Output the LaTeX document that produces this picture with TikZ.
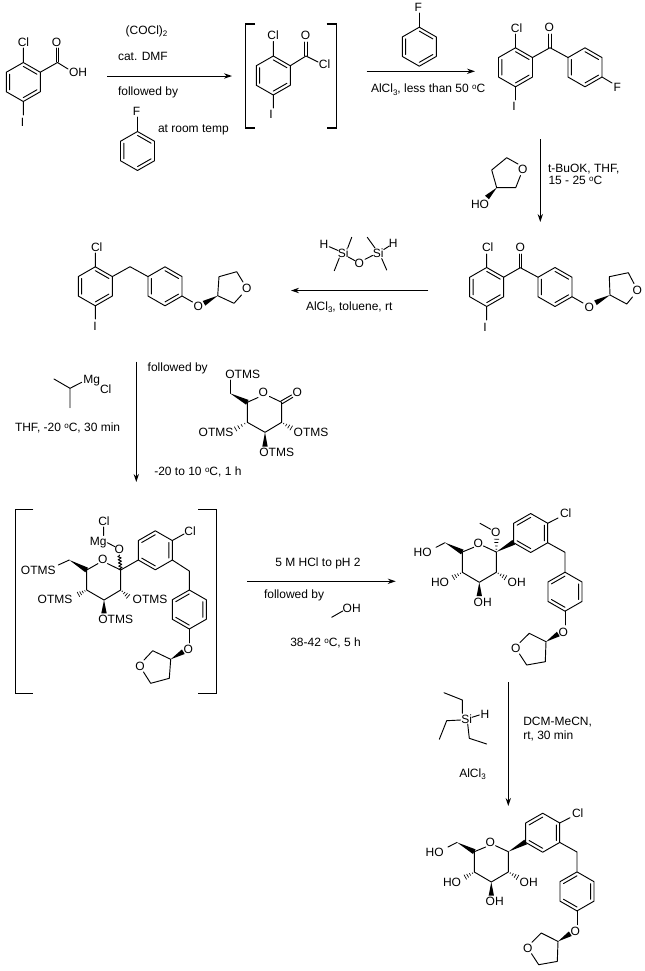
\documentclass[tikz,border=0pt]{standalone}
\usepackage{fontspec}
\setmainfont{Liberation Sans}
\usetikzlibrary{calc,arrows.meta,decorations.pathmorphing}
\tikzset{
  bond/.style={line width=0.7pt,black,line cap=round,line join=round},
  rxn/.style={line width=0.75pt,black,-{Stealth[length=6pt,width=4pt,inset=2pt]}},
  brk/.style={line width=0.85pt,black},
  lbl/.style={inner sep=0pt,outer sep=0pt,text height=6.6pt,text depth=0pt,font=\fontsize{9}{10}\selectfont,text=black},
  txt/.style={lbl,anchor=west},
}
\newcommand\lowr[1]{\raisebox{-1.7pt}{\fontsize{6}{7}\selectfont #1}}
\newcommand\dgr{\raisebox{2.2pt}{\fontsize{6}{7}\selectfont o}}
\newcommand\hexshape{\draw[bond] (0,-19.5)--(17,-9.75)--(17,9.75)--(0,19.5)--(-17,9.75)--(-17,-9.75)--cycle;}
\newcommand\benzA[2]{\begin{scope}[shift={(#1,#2)}]\hexshape
  \draw[bond] (0,-15.6)--(13.6,-7.8) (13.6,7.8)--(0,15.6) (-13.6,7.8)--(-13.6,-7.8);\end{scope}}
\newcommand\benzB[2]{\begin{scope}[shift={(#1,#2)}]\hexshape
  \draw[bond] (13.6,-7.8)--(13.6,7.8) (0,15.6)--(-13.6,7.8) (-13.6,-7.8)--(0,-15.6);\end{scope}}
\newcommand\wdg[2]{\fill[black] #1 -- ($#2!2pt!90:#1$) -- ($#2!2pt!-90:#1$) -- cycle;}
\newcommand\hsh[2]{\foreach \t/\w in {0.2/0.5,0.45/1.0,0.7/1.5,0.95/2}{%
  \coordinate (hp) at ($#1!\t!#2$);
  \draw[line width=0.5pt,black] ($(hp)!\w pt!90:#2$) -- ($(hp)!\w pt!-90:#2$);}}
\newcommand\glucosideCore[1]{%
  \draw[bond] (473.7,547.3)--(462.3,552)--(462.3,572.3)--(479.3,582.3)--(496.3,572.3)--(496.3,552)--(483.5,546);
  \node[lbl] (#1ro) at (478.3,542.7) {O};
  \wdg{(445,542.7)}{(462.3,552)}
  \draw[bond] (445,542.7)--(436,547.3);
  \node[lbl] (#1oh6) at (422.7,552.3) {HO};
  \hsh{(462.3,572.3)}{(452.8,577.6)}
  \node[lbl] (#1oh4) at (440,582.3) {HO};
  \hsh{(496.3,572.3)}{(506,577.9)}
  \node[lbl] (#1oh2) at (516.7,582.3) {OH};
  \wdg{(479.3,582.3)}{(479.3,596)}
  \node[lbl] (#1oh3) at (482.7,601.7) {OH};
  \wdg{(496.3,552)}{(513.7,542.3)}
  \benzB{530.7}{533}
  \draw[bond] (547.7,523.3)--(558,518);
  \node[lbl] (#1cl) at (565.7,513.3) {Cl};
  \draw[bond] (547.7,542.7)--(565,552.3)--(565,572.2);
  \benzB{565}{591.7}
  \draw[bond] (565,611.2)--(565,625);
  \node[lbl] (#1oe) at (563.3,631.7) {O};
  \wdg{(546,641.7)}{(558.3,634)}
  \draw[bond] (546,641.7)--(529.3,633.3)--(520,642.5);
  \node[lbl] (#1thfo) at (515.7,648.3) {O};
  \draw[bond] (519.5,654)--(526.7,665)--(545.3,661.7)--(546,641.7);
}
\begin{document}
\begin{tikzpicture}[x=0.75pt,y=-0.75pt]
\useasboundingbox (0,0) rectangle (645,971);
% --- molecule 1
\benzA{23.3}{82}
\draw[bond] (23.3,62.5)--(23.3,48) (23.3,101.5)--(23.3,115) (40.3,72.2)--(57.5,62.5)--(68,69);
\draw[bond] (56.2,62)--(56.2,48) (58.8,62)--(58.8,48);
\node[lbl] (m1cl) at (23.5,42.5) {Cl};
\node[lbl] (m1i) at (22.5,122) {I};
\node[lbl] (m1o) at (56.5,42.5) {O};
\node[lbl] (m1oh) at (78,72.5) {OH};
% --- reaction 1
\coordinate (r1a) at (107,76); \coordinate (r1b) at (232,76);
\draw[rxn] (r1a) -- (r1b);
\node[lbl] (t1a) at (146.5,30) {(COCl)\lowr{2}};
\node[txt] (t1b) at (118,56.5) {cat. DMF};
\node[txt] (t1c) at (118,91.5) {followed by};
\node[txt] (t1d) at (158,128) {at room temp};
\benzA{137.5}{151}
\draw[bond] (137.5,131.5)--(137.5,117);
\node[lbl] (t1f) at (136.5,111) {F};
% --- brackets 1
\draw[brk] (255,24)--(245.5,24)--(245.5,128)--(255,128);
\draw[brk] (326.7,24)--(336.7,24)--(336.7,128)--(326.7,128);
% --- molecule 2
\benzA{273.3}{75.5}
\draw[bond] (273.3,56)--(273.3,41.5) (273.3,95)--(273.3,108) (290.3,65.7)--(306,56)--(318,62);
\draw[bond] (304.7,56)--(304.7,42) (307.3,56)--(307.3,42);
\node[lbl] (m2cl) at (273,35.5) {Cl};
\node[lbl] (m2i) at (271,114.5) {I};
\node[lbl] (m2o) at (305.5,35.5) {O};
\node[lbl] (m2cl2) at (324.5,64.5) {Cl};
% --- reaction 2
\coordinate (r2a) at (366.7,71.3); \coordinate (r2b) at (475,71.3);
\draw[rxn] (r2a) -- (r2b);
\benzA{419.3}{46.7}
\draw[bond] (419.3,27)--(419.3,13);
\node[lbl] (t2f) at (418.3,7.5) {F};
\node[txt] (t2a) at (371,88.5) {AlCl\lowr{3}, less than 50 \dgr{}C};
% --- molecule 3
\benzA{515.5}{67.3}
\benzA{585}{67.3}
\draw[bond] (515.5,48)--(515.5,34) (515.5,86.8)--(515.5,100) (532.5,57.5)--(550,47.7)--(568,57.5) (602,77)--(612,83);
\draw[bond] (548.7,47.7)--(548.7,34) (551.3,47.7)--(551.3,34);
\node[lbl] (m3cl) at (516.5,28) {Cl};
\node[lbl] (m3o) at (549.3,27.5) {O};
\node[lbl] (m3i) at (514,106) {I};
\node[lbl] (m3f) at (617.3,86.7) {F};
% --- reaction 3
\coordinate (r3a) at (540.3,139); \coordinate (r3b) at (540.3,222);
\draw[rxn] (r3a) -- (r3b);
\node[txt] (t3a) at (548,167.7) {t-BuOK, THF,};
\node[txt] (t3b) at (548.5,180) {15 - 25 \dgr{}C};
\draw[bond] (518,164)--(506.7,157.7)--(491.7,170)--(496.7,187.7)--(515.7,187.7)--(520.5,175.5);
\node[lbl] (t3o) at (522.7,169) {O};
\wdg{(496.7,187.7)}{(487,197.5)}
\node[lbl] (t3ho) at (480,203.7) {HO};
% --- molecule 4
\benzA{486.7}{287}
\benzA{555}{287}
\draw[bond] (486.7,267.5)--(486.7,254) (486.7,306.5)--(486.7,320) (503.7,277.2)--(520.3,267.7)--(538,277.2) (572,296.7)--(583,303);
\draw[bond] (519,267.7)--(519,254) (521.6,267.7)--(521.6,254);
\node[lbl] (m4cl) at (487.7,247.3) {Cl};
\node[lbl] (m4o) at (520.3,247.3) {O};
\node[lbl] (m4i) at (485,327) {I};
\node[lbl] (m4oe) at (589.3,306.7) {O};
\wdg{(610,295)}{(595.5,302.7)}
\draw[bond] (610,295)--(609.3,276.7)--(628.3,272.7)--(634,283.5) (632.5,297)--(626.7,304)--(610,295);
\node[lbl] (m4thfo) at (637.3,290) {O};
% --- reaction 4
\coordinate (r4a) at (428.3,290.5); \coordinate (r4b) at (291,290.5);
\draw[rxn] (r4a) -- (r4b);
\node[txt] (t4a) at (306,306) {AlCl\lowr{3}, toluene, rt};
\node[lbl] (t4h1) at (324,244.3) {H};
\node[lbl] (t4si1) at (343.3,253.3) {Si};
\node[lbl] (t4o) at (359.3,263.3) {O};
\node[lbl] (t4si2) at (378.3,253.3) {Si};
\node[lbl] (t4h2) at (393.3,242.7) {H};
\draw[bond] (329.3,246.7)--(338,250.5) (347.7,248)--(351.7,237.3) (339.3,258)--(334.3,270.7) (348.3,257)--(355,260.7) (365,259.3)--(372.5,255.5) (375,248)--(367.3,237.3) (381.7,258.5)--(386.7,270) (383.8,249.5)--(389.3,246);
% --- molecule 5
\benzA{95.3}{286.3}
\benzA{165}{286.3}
\draw[bond] (95.3,267)--(95.3,253) (95.3,305.5)--(95.3,319) (112.3,276.6)--(130,266.7)--(148,276.6) (182,296)--(192.5,302);
\node[lbl] (m5cl) at (96.7,246.7) {Cl};
\node[lbl] (m5i) at (95,325.7) {I};
\node[lbl] (m5oe) at (198.3,305.7) {O};
\wdg{(217.7,295.7)}{(204,303.3)}
\draw[bond] (217.7,295.7)--(219,276.7)--(236.7,271.7)--(243,282) (241.5,295)--(234,303.3)--(217.7,295.7);
\node[lbl] (m5thfo) at (246.7,288.3) {O};
% --- reaction 5
\coordinate (r5a) at (136.3,361.7); \coordinate (r5b) at (136.3,482);
\draw[rxn] (r5a) -- (r5b);
\node[txt] (t5a) at (147.7,366.7) {followed by};
\draw[bond] (54,379)--(70,388.3)--(70,407.7) (70,388.3)--(81.7,382.3);
\node[lbl] (t5mg) at (91.7,379) {Mg};
\node[lbl] (t5cl) at (105.7,389) {Cl};
\node[txt] (t5b) at (15,426.7) {THF, -20 \dgr{}C, 30 min};
\node[txt] (t5c) at (154.3,470.7) {-20 to 10 \dgr{}C, 1 h};
% lactone
\draw[bond] (258,397.5)--(247.3,402.3)--(247.3,422.3)--(265,432.3)--(281.7,422.3)--(281.7,402.3)--(269.5,396.5);
\node[lbl] (lo) at (263.3,392.3) {O};
\draw[bond] (281,401)--(291.5,395) (282.4,403.6)--(292.8,397.3);
\node[lbl] (lo2) at (297.3,392.3) {O};
\wdg{(230,393.3)}{(247.3,402.3)}
\draw[bond] (230,393.3)--(230,380);
\node[lbl] (lt1) at (242.7,373.7) {OTMS};
\hsh{(247.3,422.3)}{(235,429.3)}
\node[lbl] (lt2) at (216,432.3) {OTMS};
\hsh{(281.7,422.3)}{(291.7,428.3)}
\node[lbl] (lt3) at (311,432.3) {OTMS};
\wdg{(265,432.3)}{(265,446.5)}
\node[lbl] (lt4) at (276.7,452.3) {OTMS};
% --- brackets 6
\draw[brk] (33.3,509.3)--(15.7,509.3)--(15.7,693.3)--(33.3,693.3);
\draw[brk] (198.3,509.3)--(216.7,509.3)--(216.7,693.3)--(198.3,693.3);
% --- molecule 6
\draw[bond] (98,563.6)--(86.7,570)--(86.7,590)--(104,600)--(120.7,590)--(120.7,570)--(107.5,563.6);
\node[lbl] (m6o) at (102.7,559) {O};
\wdg{(69.3,560)}{(86.7,570)}
\draw[bond] (69.3,560)--(58.3,565);
\node[lbl] (m6t1) at (38.3,570) {OTMS};
\hsh{(86.7,590)}{(78,594.6)}
\node[lbl] (m6t2) at (55,599.3) {OTMS};
\hsh{(120.7,590)}{(128.5,596.7)}
\node[lbl] (m6t3) at (150,599.3) {OTMS};
\wdg{(104,600)}{(104,613.3)}
\node[lbl] (m6t4) at (115.7,619.3) {OTMS};
\draw[bond,decorate,decoration={zigzag,segment length=2.4pt,amplitude=1.2pt}] (120.7,570)--(119.3,555);
\node[lbl] (m6oa) at (119.3,549.3) {O};
\node[lbl] (m6mg) at (98.3,541) {Mg};
\node[lbl] (m6mcl) at (104,520.7) {Cl};
\draw[bond] (103.7,527)--(103.7,535.5) (107.3,542.7)--(115,546.7) (120.7,570)--(138.3,560);
\benzB{155.3}{550.3}
\draw[bond] (172.3,540.5)--(184,534);
\node[lbl] (m6cl) at (190,531) {Cl};
\draw[bond] (172.3,560)--(189.3,571)--(189.3,590);
\benzB{189.3}{609.5}
\draw[bond] (189.3,629)--(189.3,643);
\node[lbl] (m6oe) at (188.3,649.3) {O};
\wdg{(170.7,659.3)}{(183.3,651.7)}
\draw[bond] (170.7,659.3)--(152.7,650.7)--(144,660) (143.5,672)--(150.7,683.3)--(169.3,678.3)--(170.7,659.3);
\node[lbl] (m6thfo) at (140,666) {O};
% --- reaction 6
\coordinate (r6a) at (247.3,581.3); \coordinate (r6b) at (395.7,581.3);
\draw[rxn] (r6a) -- (r6b);
\node[txt] (t6a) at (275.3,561.7) {5 M HCl to pH 2};
\node[txt] (t6b) at (264,594) {followed by};
\draw[bond] (331.7,617.3)--(342.7,611);
\node[lbl] (t6oh) at (351.7,607.7) {OH};
\node[txt] (t6c) at (290.3,641.7) {38-42 \dgr{}C, 5 h};
% --- molecule 7
\glucosideCore{m7}
\hsh{(496.3,552)}{(496.5,538.5)}
\node[lbl] (m7ome) at (495.7,532.3) {O};
\draw[bond] (480,523.3)--(490.7,529.3);
% --- reaction 7
\coordinate (r7a) at (508.3,682); \coordinate (r7b) at (508.3,806);
\draw[rxn] (r7a) -- (r7b);
\node[lbl] (t7si) at (466.7,719.3) {Si};
\node[lbl] (t7h) at (485,714.3) {H};
\draw[bond] (472,717.3)--(479.3,715) (462.3,713.3)--(462.3,700)--(444,692.7) (460.7,720)--(446.7,720.7)--(439.3,739.3) (467.7,724)--(469.3,738.3)--(486.7,744);
\node[txt] (t7a) at (459.3,773.3) {AlCl\lowr{3}};
\node[txt] (t7b) at (523.3,720.7) {DCM-MeCN,};
\node[txt] (t7c) at (523.3,735) {rt, 30 min};
% --- molecule 8
\begin{scope}[shift={(12,299.7)}]
\glucosideCore{m8}
\end{scope}
\end{tikzpicture}
\end{document}
